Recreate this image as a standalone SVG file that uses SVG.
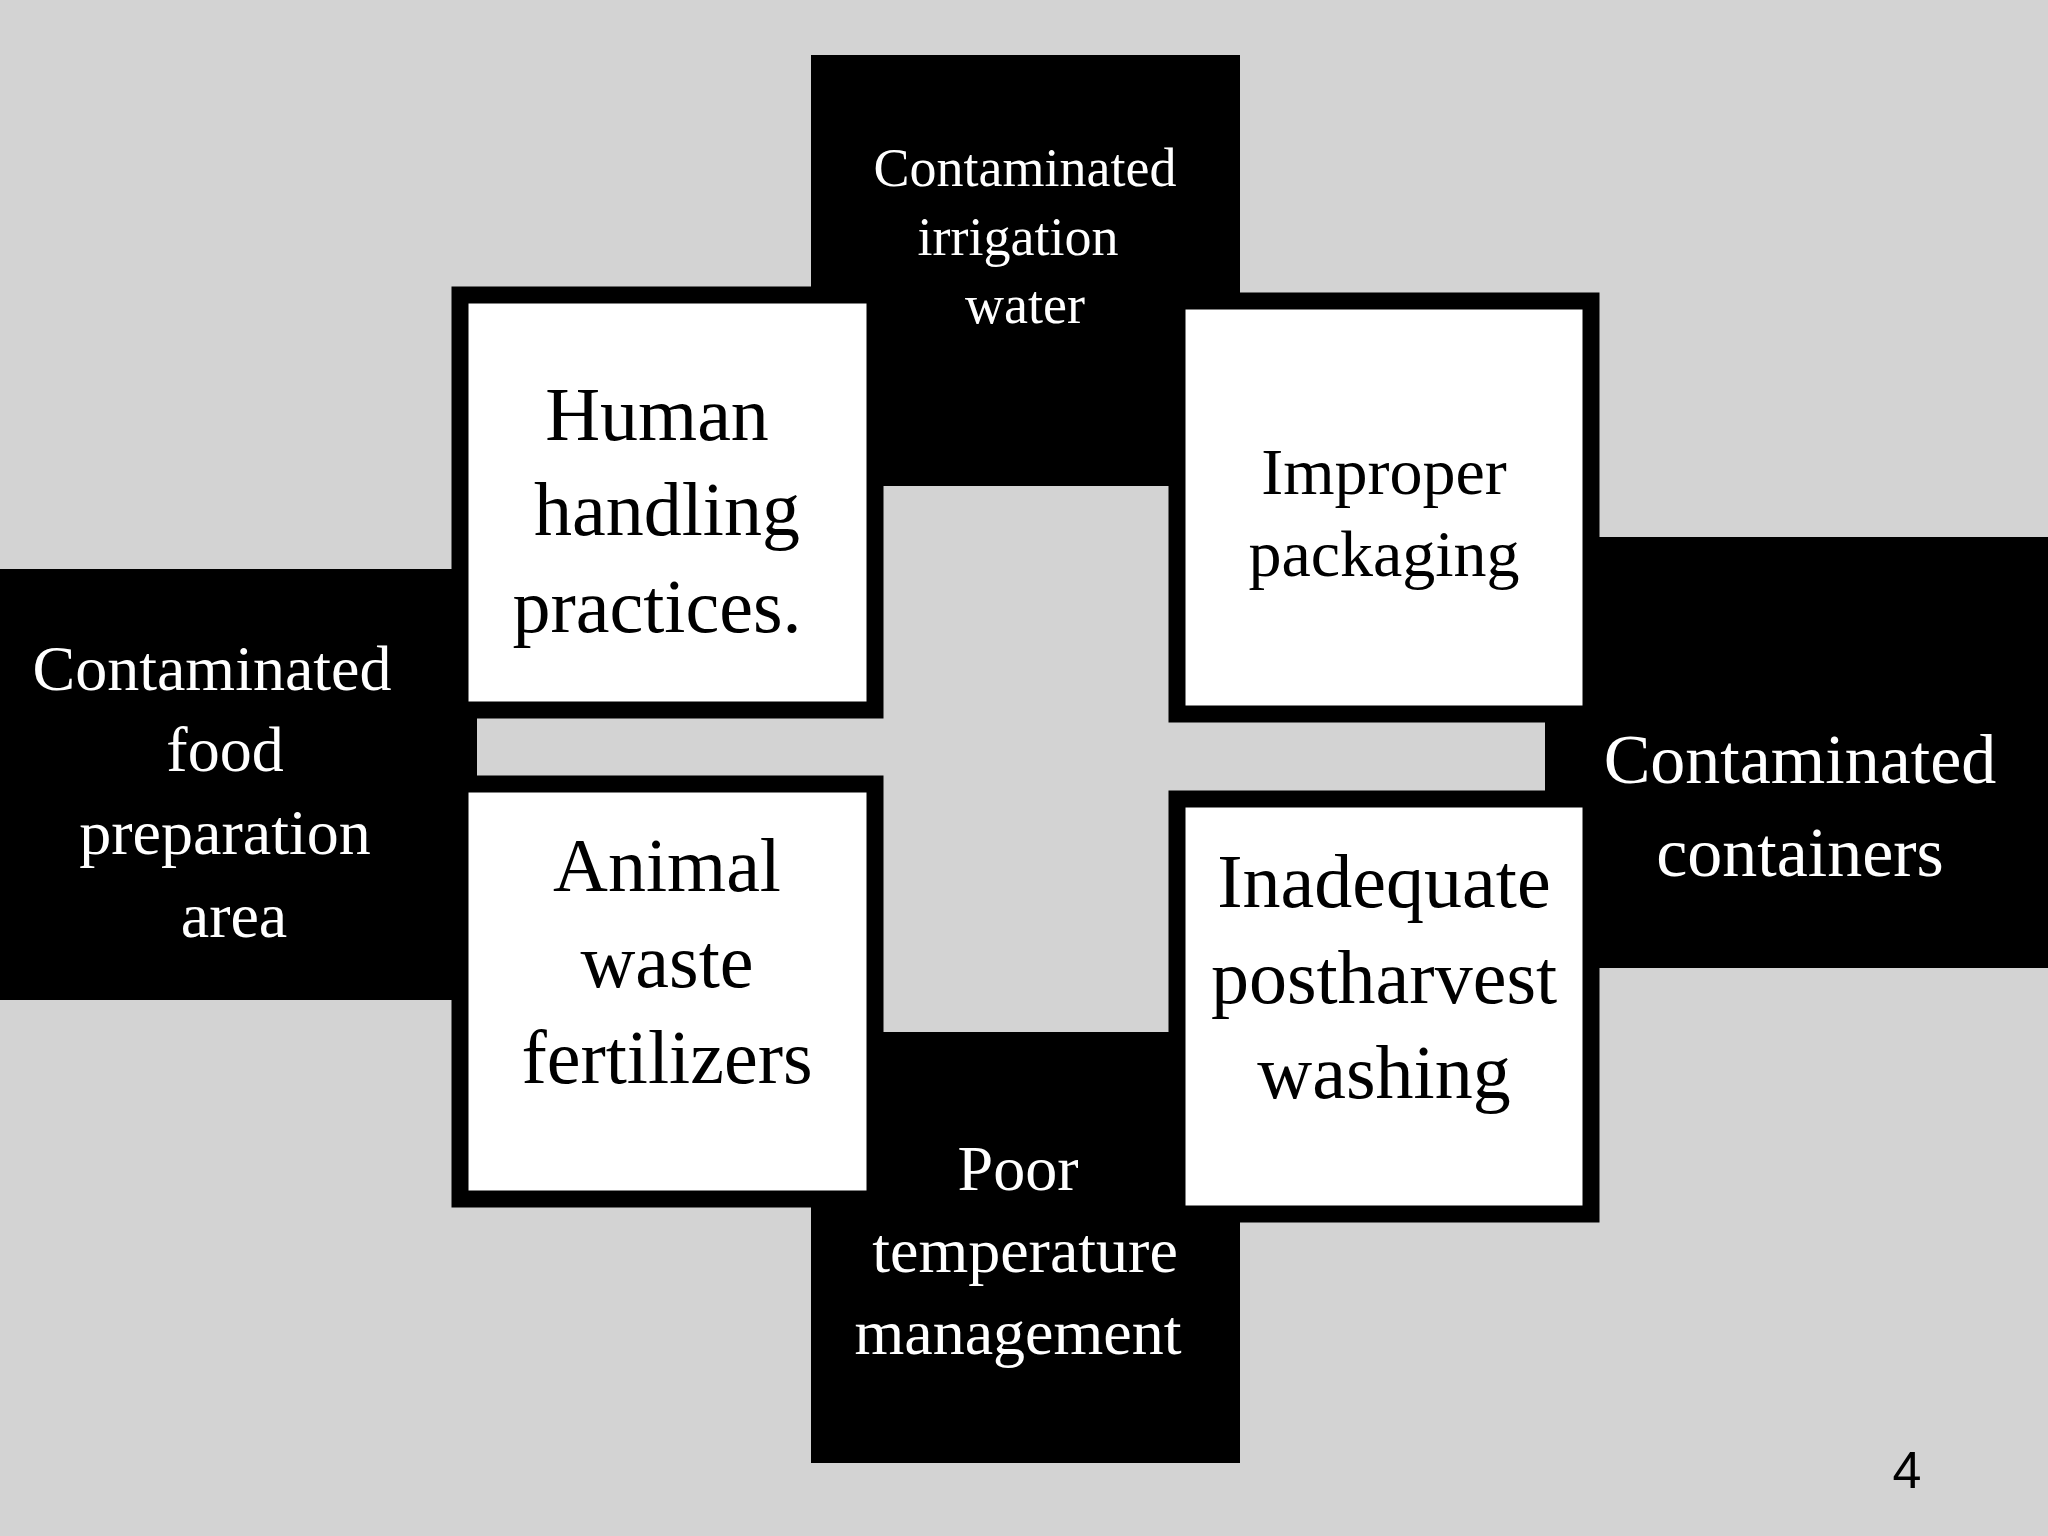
<svg xmlns="http://www.w3.org/2000/svg" width="2048" height="1536" viewBox="0 0 2048 1536">
<style>
.blk{fill:#000}
.box{fill:#fff;stroke:#000;stroke-width:17}
.t{font-family:"Liberation Serif","Times New Roman",serif;text-anchor:middle}
.w{fill:#fff}
.k{fill:#000}
</style>
<rect width="2048" height="1536" fill="#d3d3d3"/>
<g id="top"><rect class="blk" x="811" y="55" width="429" height="431"/>
<text class="t w" font-size="54"><tspan x="1025" y="186">Contaminated</tspan><tspan x="1018" y="255">irrigation</tspan><tspan x="1025" y="323">water</tspan></text></g>
<g id="left"><rect class="blk" x="0" y="569" width="477" height="431"/>
<text class="t w" font-size="64"><tspan x="212" y="690">Contaminated</tspan><tspan x="225" y="771">food</tspan><tspan x="225" y="854">preparation</tspan><tspan x="234" y="937">area</tspan></text></g>
<g id="right"><rect class="blk" x="1545" y="537" width="503" height="431"/>
<text class="t w" font-size="70"><tspan x="1800" y="783">Contaminated</tspan><tspan x="1800" y="876">containers</tspan></text></g>
<g id="bottom"><rect class="blk" x="811" y="1032" width="429" height="431"/>
<text class="t w" font-size="64"><tspan x="1018" y="1190">Poor</tspan><tspan x="1025" y="1272">temperature</tspan><tspan x="1018" y="1354">management</tspan></text></g>
<g id="human"><rect class="box" x="460" y="295" width="415" height="415"/>
<text class="t k" font-size="76"><tspan x="657" y="440">Human</tspan><tspan x="667" y="535">handling</tspan><tspan x="657" y="632">practices.</tspan></text></g>
<g id="improper"><rect class="box" x="1177" y="301" width="414" height="413"/>
<text class="t k" font-size="66"><tspan x="1384" y="494">Improper</tspan><tspan x="1384" y="576">packaging</tspan></text></g>
<g id="animal"><rect class="box" x="460" y="784" width="415" height="415"/>
<text class="t k" font-size="76"><tspan x="667" y="891">Animal</tspan><tspan x="667" y="987">waste</tspan><tspan x="667" y="1083">fertilizers</tspan></text></g>
<g id="inadequate"><rect class="box" x="1177" y="799" width="414" height="415"/>
<text class="t k" font-size="76"><tspan x="1384" y="907">Inadequate</tspan><tspan x="1384" y="1003">postharvest</tspan><tspan x="1384" y="1098">washing</tspan></text></g>
<g id="connectors"></g>
<text x="1907" y="1488" font-family="Liberation Sans,Arial,sans-serif" font-size="52" text-anchor="middle">4</text>
</svg>
